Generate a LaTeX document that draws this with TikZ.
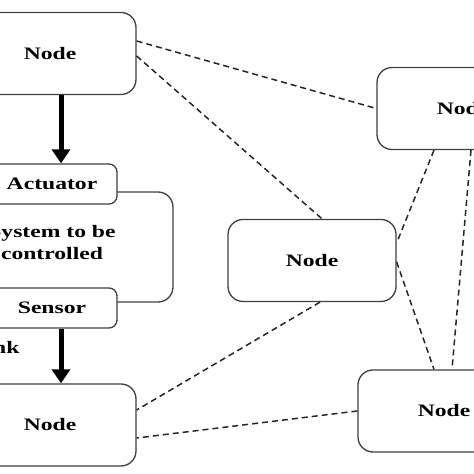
\documentclass[tikz,border=0pt]{standalone}
\usepackage{fontspec}
\setmainfont{Liberation Serif}[FakeStretch=1.35]
\usepackage{tikz}
\usetikzlibrary{arrows.meta}

\tikzset{
  netnode/.style={draw=black!75, line width=1.3pt, fill=white, rounded corners=15pt,
    minimum width=172pt, minimum height=82pt, font=\fontsize{17.5}{21}\selectfont\bfseries},
  partbox/.style={draw=black!75, line width=1.3pt, fill=white, rounded corners=8pt,
    minimum width=130pt, minimum height=40pt, font=\fontsize{17.5}{21}\selectfont\bfseries},
  plantbox/.style={draw=black!75, line width=1.3pt, rounded corners=15pt},
  radiolink/.style={draw=black!85, line width=1.5pt, dash pattern=on 6pt off 4pt},
  bigarrow/.style={line width=5pt, -{Triangle[width=18pt,length=14pt]}}
}

\begin{document}
\begin{tikzpicture}[x=1pt, y=1pt]
  \useasboundingbox (0,0) rectangle (474,474);

  % Controlled plant with its actuator and sensor
  \draw[plantbox] (-70,172) rectangle (173,282);
  \node[align=center, font=\fontsize{17.5}{22}\selectfont\bfseries] (plant) at (52,231)
    {System to be\\controlled};
  \node[partbox] (act) at (52,290) {Actuator};
  \node[partbox] (sens) at (52,166) {Sensor};

  % Network nodes
  \node[netnode] (n1) at (50,420.5) {Node};
  \node[netnode] (n2) at (50,49) {Node};
  \node[netnode, minimum width=168pt] (n3) at (312,213.5) {Node};
  \node[netnode] (n4) at (463,365.5) {Node};
  \node[netnode] (n5) at (444,63) {Node};

  \node[anchor=east, font=\fontsize{17.5}{21}\selectfont\bfseries] (lnk) at (23,127) {Link};

  % Wired paths to and from the plant
  \draw[bigarrow] ([xshift=11pt]n1.south) -- ([xshift=9pt]act.north);
  \draw[bigarrow] ([xshift=9pt]sens.south) -- ([xshift=11pt]n2.north);

  % Wireless links between the nodes
  \draw[radiolink] ([yshift=12.5pt]n1.east) -- (n4.west);
  \draw[radiolink] ([yshift=-2.5pt]n1.east) -- ([xshift=10pt]n3.north);
  \draw[radiolink] ([xshift=-29pt]n4.south) -- ([yshift=17.5pt]n3.east);
  \draw[radiolink] ([xshift=8pt]n4.south) -- ([xshift=8pt]n5.north);
  \draw[radiolink] ([yshift=-1.5pt]n3.east) -- ([xshift=-10pt]n5.north);
  \draw[radiolink] ([xshift=8pt]n3.south) -- ([yshift=15pt]n2.east);
  \draw[radiolink] (n5.west) -- ([yshift=-13pt]n2.east);
\end{tikzpicture}
\end{document}
